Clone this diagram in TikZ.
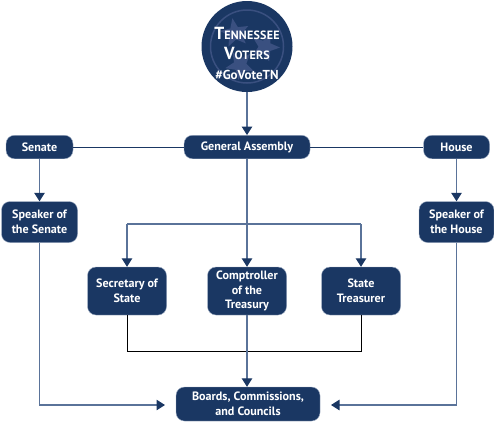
\documentclass[tikz,border=0pt]{standalone}
\usepackage{fontspec}
\setmainfont{PT Sans}
\usetikzlibrary{arrows.meta}
\definecolor{navy}{HTML}{1A3763}
\definecolor{link}{HTML}{5A7399}
\definecolor{ringc}{HTML}{3A5080}
\tikzset{
  x=1pt,y=-1pt,
  box/.style={fill=navy,draw=link!60,line width=.4pt,rounded corners=8.5pt,text=white,font=\fontsize{12.1}{14.8}\selectfont\bfseries,align=center,inner sep=0pt,anchor=center},
  lower/.style={execute at begin node={\rule{0pt}{11.5pt}\ignorespaces}},
  conn/.style={draw=link,line width=1.1pt},
  thin link/.style={draw=navy,line width=.8pt},
  blk/.style={draw=black,line width=.8pt},
  tip/.style={-{Triangle[length=8.5pt,width=10.5pt,color=navy]}},
}
\newcommand{\tnstar}[3]{\fill[ringc,shift={(#1,#2)},rotate=#3] (90:15)--(126:6.5)--(162:15)--(198:6.5)--(234:15)--(270:6.5)--(306:15)--(342:6.5)--(18:15)--(54:6.5)--cycle;}
\begin{document}
\begin{tikzpicture}
\useasboundingbox (0,0) rectangle (494,421);
\coordinate (cc) at (247,46.5);
\node[circle,fill=navy,minimum size=91pt,inner sep=0pt] (voters) at (cc) {};
\draw[ringc,line width=1.5pt] (cc) circle (36.5);
\begin{scope}[y=1pt]
\tnstar{235}{-33}{10}
\tnstar{265}{-47}{-20}
\tnstar{240}{-65}{30}
\end{scope}
\node[text=white,font=\fontsize{12}{20}\selectfont\bfseries,align=center,inner sep=0pt] (votertext) at (247,53.5) {{\fontsize{17.5}{20}\selectfont T}{\addfontfeature{LetterSpace=2}ENNESSEE}\\{\fontsize{17.5}{20}\selectfont V}{\addfontfeature{LetterSpace=2}OTERS}\\{\fontsize{13}{20}\selectfont \#GoVoteTN}};

\node[box,minimum width=67pt,minimum height=23.5pt] (senate) at (39.5,147) {Senate};
\node[box,minimum width=126pt,minimum height=23.5pt] (ga) at (247,147) {General Assembly};
\node[box,minimum width=66pt,minimum height=23.5pt] (house) at (456.5,147) {House};
\node[box,minimum width=76pt,minimum height=41pt] (sps) at (39.5,222) {Speaker of\\the Senate};
\node[box,minimum width=75pt,minimum height=41pt] (sph) at (456.5,222) {Speaker of\\the House};
\node[box,lower,minimum width=79pt,minimum height=48pt] (sos) at (127,291) {Secretary of\\State};
\node[box,lower,minimum width=79pt,minimum height=48pt] (comp) at (247,291) {Comptroller\\of the\\Treasury};
\node[box,lower,minimum width=79pt,minimum height=48pt] (tre) at (361,291) {State\\Treasurer};
\node[box,lower,minimum width=144pt,minimum height=34pt] (bcc) at (248,404) {Boards, Commissions,\\and Councils};

\coordinate (jl) at (127,224);
\coordinate (jr) at (361,224);
\coordinate (jb) at (127,351);
\coordinate (jc) at (361,351);
\coordinate (sl) at (39.5,405);
\coordinate (sr) at (456.5,405);
\coordinate (el) at (165,405);
\coordinate (er) at (331,405);

\draw[thin link] (senate) -- (ga);
\draw[thin link] (ga) -- (house);
\draw[conn,tip] (voters.south -| ga.north) -- (ga.north);
\draw[conn,tip] (senate) -- (sps);
\draw[conn,tip] (house) -- (sph);
\draw[conn,tip] (ga) -- (comp);
\draw[conn] (jl) -- (jr);
\draw[conn,tip] (jl) -- (sos);
\draw[conn,tip] (jr) -- (tre);
\draw[blk] (sos) -- (jb) -- (jc) -- (tre);
\draw[conn,tip] (comp) -- (comp |- bcc.north);
\draw[conn,tip] (sps) -- (sl) -- (el);
\draw[conn,tip] (sph) -- (sr) -- (er);
\end{tikzpicture}
\end{document}
